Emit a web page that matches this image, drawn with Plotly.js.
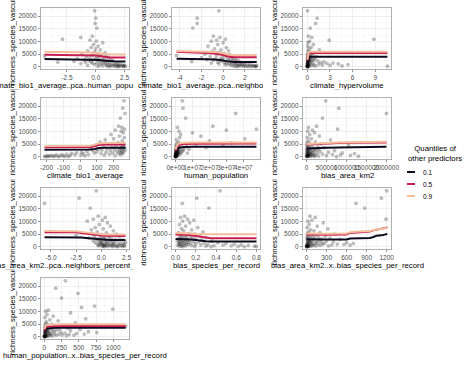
<!DOCTYPE html>
<html>
<head>
<meta charset="utf-8">
<script src="https://cdn.plot.ly/plotly-3.0.1.min.js"></script>
<style>
  html, body { margin: 0; padding: 0; background: #ffffff; }
  #plot { width: 474px; height: 368px; }
</style>
</head>
<body>
<div id="plot"></div>
<script>
// Response: vascular plant species richness per ecoregion (shared by every panel)
const richness = [22100, 19200, 17100, 15300, 12100, 11600, 10900, 10500, 10100, 9500,
  8800, 8200, 7600, 7100, 6700, 6300, 5900, 5600, 5300, 5000,
  4800, 4600, 4400, 4200, 4000, 3900, 3700, 3600, 3400, 3300,
  3200, 3100, 3000, 2900, 2800, 2700, 2600, 2500, 2400, 2300,
  2200, 2100, 2000, 1950, 1850, 1800, 1700, 1650, 1550, 1500,
  1450, 1350, 1300, 1200, 1150, 1100, 1000, 950, 900, 850,
  800, 750, 700, 650, 600, 550, 500, 450, 400, 380,
  340, 300, 260, 230, 200, 170, 150, 120, 100, 80];

// Predictor values (same observation order as richness)
const pcaHumanPopDensity = [-0.1, 0.0, -0.05, 0.1, -0.3, -1.3, -2.9, -0.5, 0.05, 0.6,
  -0.2, 0.2, -0.4, 0.0, 0.4, -0.7, -0.1, 0.8, 0.2, -1.2,
  0.5, -0.3, 0.9, -4.45, 0.1, -0.8, 1.1, 0.3, -0.5, 0.7,
  -1.6, 0.0, 1.3, -0.2, 0.6, -1.0, 0.9, 0.2, -0.6, 1.5,
  -1.9, 0.4, -0.4, 1.0, -3.3, 0.7, -0.9, 1.2, 0.1, 1.7,
  -0.3, 0.8, -1.3, 1.9, 0.5, 1.4, -0.1, 2.1, 1.1, 0.3,
  1.6, 2.3, 0.9, 1.8, -0.7, 2.5, 1.3, 2.0, 0.6, 2.4,
  1.5, 2.2, 1.0, 2.58, 1.7, 0.2, 2.0, 1.2, 2.4, 1.9];

const pcaNeighborsCount = [-0.4, -2.4, -2.4, -2.8, -0.9, -0.3, 0.2, -0.6, -1.1, 0.0,
  -0.5, -1.4, 0.3, -0.8, -0.2, 0.5, -1.0, -0.4, 0.1, -1.7,
  0.6, -0.6, -4.3, 0.2, -1.2, 0.8, -0.1, -2.0, 0.4, -0.7,
  1.0, -0.3, 0.7, -1.5, 0.0, 1.2, -0.9, 0.5, 1.4, -0.2,
  0.9, -2.9, 0.3, 1.1, -0.5, 1.6, 0.1, 0.8, 1.9, -1.1,
  1.3, 0.6, 2.2, 1.0, -0.4, 1.7, 0.4, 2.5, 1.2, 0.2,
  2.0, 1.5, 2.8, 0.7, 1.8, 3.1, 1.4, 2.4, 0.9, 2.7,
  1.6, 3.0, 2.1, 1.1, 2.9, 2.3, 1.9, 3.05, 2.6, 1.3];

const climateHypervolume = [0.02, 1.3, 1.1, 0.4, 0.15, 0.6, 8.8, 2.9, 0.3, 0.1,
  0.8, 0.05, 0.5, 0.2, 1.6, 0.08, 0.35, 0.9, 0.12, 0.45,
  0.03, 0.7, 0.25, 0.06, 1.2, 0.18, 0.55, 0.04, 0.3, 0.1,
  0.85, 0.02, 0.4, 0.15, 1.0, 0.07, 0.6, 0.22, 0.03, 1.4,
  0.12, 0.5, 0.05, 2.2, 0.28, 0.09, 1.8, 0.02, 0.75, 3.4,
  0.14, 2.6, 0.04, 0.38, 4.1, 0.01, 1.5, 0.2, 5.4, 0.06,
  0.9, 0.03, 2.0, 0.11, 3.0, 0.02, 0.65, 0.05, 4.6, 0.01,
  0.32, 1.1, 0.04, 10.6, 0.02, 0.08, 0.01, 0.16, 0.03, 0.0];

const climateBio1Average = [262, 255, 268, 240, 230, 250, 265, 210, 245, 258,
  185, 235, 264, 200, 150, 252, 120, 225, 260, 170,
  243, 95, 255, 215, 140, 266, 190, 248, 60, 232,
  160, 257, 110, 205, 269, 130, 238, 75, 180, 250,
  40, 220, 100, 262, 10, 155, 245, -20, 195, 85,
  230, -50, 125, 254, 20, -80, 175, 50, -110, 240,
  -30, -140, 145, 5, -170, -60, 210, -190, -100, 30,
  -150, -205, -120, -180, -90, -160, -212, -130, -195, -70];

const humanPopulation = [4.0e6, 4.3e6, 3.55e7, 6.0e6, 2.2e7, 1.1e6, 4.78e7, 3.0e7, 2.0e6, 1.0e7,
  3.0e6, 1.5e7, 2.4e6, 4.1e7, 5.0e5, 2.0e7, 1.7e6, 3.3e7, 8.0e5, 1.2e7,
  3.5e6, 2.5e5, 2.8e7, 1.4e6, 6.5e6, 4.0e5, 2.2e6, 1.8e7, 9.0e5, 5.0e6,
  3.0e5, 1.3e6, 8.0e6, 6.0e5, 2.7e6, 1.5e5, 1.1e6, 4.5e6, 2.0e5, 1.9e6,
  7.0e5, 3.8e6, 1.0e5, 1.5e6, 5.5e5, 2.5e6, 8.0e4, 1.0e6, 3.5e5, 7.0e6,
  1.6e6, 2.0e5, 4.5e5, 3.2e6, 6.0e4, 1.2e6, 3.0e5, 9.0e5, 5.0e4, 2.1e6,
  1.5e5, 5.0e5, 4.0e4, 1.0e6, 2.5e5, 3.0e4, 7.0e5, 1.2e5, 2.0e4, 4.0e5,
  1.0e4, 8.0e4, 6.0e5, 5.0e3, 2.0e5, 3.0e4, 1.0e5, 2.0e3, 5.0e4, 1.0e3];

const biasAreaKm2 = [4.8e5, 8.1e5, 2.0e6, 4.0e5, 2.5e5, 5.0e4, 7.8e5, 1.5e5, 3.0e4, 2.0e5,
  8.0e4, 3.2e5, 2.0e4, 1.2e5, 6.0e5, 4.0e4, 2.2e5, 1.0e4, 9.0e4, 3.6e5,
  1.6e5, 5.0e3, 1.05e6, 7.0e4, 2.8e5, 3.0e4, 1.3e5, 4.4e5, 1.5e4, 2.0e5,
  6.0e4, 1.0e5, 3.0e5, 8.0e3, 1.7e5, 5.0e4, 2.4e5, 2.0e4, 7.0e5, 1.1e5,
  4.0e4, 3.4e5, 1.2e4, 1.9e5, 9.0e4, 5.5e5, 2.5e4, 1.4e5, 9.0e5, 6.0e4,
  2.7e5, 3.0e3, 1.2e6, 1.0e5, 3.5e4, 4.0e5, 7.0e4, 1.8e5, 6.5e5, 2.0e4,
  1.3e5, 8.5e5, 4.5e4, 2.2e5, 1.0e4, 1.1e6, 8.0e4, 5.0e5, 3.0e4, 1.5e5,
  6.0e3, 3.0e5, 5.0e4, 1.3e6, 1.5e4, 9.5e4, 4.0e3, 2.0e5, 2.5e4, 7.5e5];

const pcaNeighborsSharedEdge = [-0.5, -2.2, -5.64, -1.1, -0.3, 0.4, -0.8, 0.1, -1.4, 0.6,
  -0.2, 0.9, -0.6, 0.2, -1.0, 1.2, -0.4, 0.5, -0.9, 1.5,
  0.0, -2.5, 0.8, -0.7, 0.3, 1.8, -0.1, 0.7, -1.2, 1.0,
  0.2, -0.5, 1.4, 0.4, -0.3, 2.1, 0.1, 0.9, -0.8, 1.6,
  0.5, -0.2, 1.1, 0.0, 2.4, 0.6, -0.6, 1.3, 0.3, 1.9,
  -0.1, 0.8, 2.2, 0.1, 1.2, -0.4, 0.5, 1.7, 0.0, 1.0,
  2.3, 0.3, 1.4, -0.2, 0.7, 2.0, 0.2, 1.1, 0.4, 1.8,
  -0.3, 0.9, 2.3, 0.6, 1.5, 0.1, 2.1, 1.2, 0.3, 1.6];

const biasSpeciesPerRecord = [0.44, 0.21, 0.067, 0.33, 0.09, 0.05, 0.12, 0.18, 0.07, 0.14,
  0.04, 0.1, 0.22, 0.06, 0.16, 0.08, 0.27, 0.03, 0.13, 0.19,
  0.05, 0.1, 0.24, 0.07, 0.15, 0.04, 0.11, 0.3, 0.06, 0.17,
  0.09, 0.03, 0.2, 0.12, 0.05, 0.26, 0.08, 0.14, 0.02, 0.36,
  0.1, 0.06, 0.18, 0.04, 0.23, 0.12, 0.07, 0.42, 0.15, 0.03,
  0.28, 0.09, 0.5, 0.05, 0.2, 0.11, 0.58, 0.04, 0.32, 0.13,
  0.65, 0.08, 0.25, 0.47, 0.02, 0.72, 0.16, 0.38, 0.06, 0.55,
  0.1, 0.78, 0.3, 0.04, 0.62, 0.19, 0.8, 0.35, 0.07, 0.68];

const biasAreaXSpeciesPerRecord = [1200, 1120, 740, 870, 50, 130, 1190, 80, 20, 250,
  40, 160, 10, 320, 60, 110, 30, 200, 15, 420,
  70, 140, 25, 280, 90, 5, 180, 45, 350, 120,
  8, 230, 55, 500, 100, 20, 190, 35, 300, 75,
  12, 150, 400, 40, 220, 65, 600, 18, 130, 270,
  50, 700, 10, 170, 85, 460, 28, 240, 560, 6,
  110, 380, 45, 650, 15, 200, 3, 90, 330, 25,
  140, 8, 60, 2, 35, 12, 4, 18, 1, 7];

const humanPopXSpeciesPerRecord = [306, 166, 488, 250, 729, 540, 993, 60, 20, 380,
  40, 130, 10, 600, 80, 200, 30, 450, 15, 110,
  50, 280, 25, 1180, 70, 5, 160, 35, 340, 90,
  8, 220, 45, 520, 120, 18, 180, 40, 380, 65,
  12, 140, 640, 30, 240, 55, 760, 14, 100, 300,
  45, 470, 9, 150, 75, 580, 22, 210, 360, 5,
  95, 260, 38, 430, 12, 170, 3, 70, 320, 20,
  115, 7, 50, 2, 30, 10, 4, 15, 1, 6];

// Partial dependence curves: grid of predictor values and predictions with the
// other predictors held at their 0.1 / 0.5 / 0.9 quantiles
const pd1X = [-4.45, -3.0, -2.0, -1.0, -0.4, 0.0, 0.3, 0.6, 0.9, 1.2, 1.6, 2.0, 2.58];
const pd1Q1 = [3100, 3050, 3000, 3000, 2950, 2850, 2700, 2500, 2350, 2250, 2200, 2150, 2150];
const pd1Q5 = [4750, 4750, 4700, 4700, 4650, 4500, 4300, 4000, 3800, 3700, 3650, 3650, 3650];
const pd1Q9 = [5950, 5900, 5850, 5750, 5650, 5450, 5250, 5050, 4950, 4900, 4850, 4850, 4850];

const pd2X = [-4.3, -3.0, -2.2, -1.5, -0.8, -0.3, 0.0, 0.3, 0.6, 1.0, 1.5, 2.2, 3.1];
const pd2Q1 = [3200, 3200, 3100, 3000, 2900, 2750, 2500, 2250, 2050, 1950, 1900, 1900, 1900];
const pd2Q5 = [5900, 5850, 5600, 5500, 5300, 5000, 4700, 4300, 3950, 3800, 3750, 3750, 3750];
const pd2Q9 = [6250, 6200, 6050, 5950, 5850, 5650, 5350, 5000, 4750, 4650, 4650, 4650, 4650];

const pd3X = [0, 0.05, 0.1, 0.2, 0.4, 1, 3, 6, 10.6];
const pd3Q1 = [800, 1800, 3200, 3800, 3950, 4000, 4000, 4000, 4000];
const pd3Q5 = [2500, 3800, 4900, 5400, 5500, 5500, 5500, 5500, 5500];
const pd3Q9 = [2800, 4200, 5300, 5800, 5900, 5900, 5900, 5900, 5900];

const pd4X = [-212, -100, 0, 60, 90, 110, 150, 200, 240, 271];
const pd4Q1 = [2750, 2750, 2800, 2850, 3100, 3500, 3600, 3650, 3650, 3600];
const pd4Q5 = [3800, 3800, 3850, 3900, 4200, 4700, 4850, 4900, 4950, 4900];
const pd4Q9 = [4300, 4300, 4350, 4400, 4800, 5300, 5450, 5550, 5600, 5600];

const pd5X = [0, 5e5, 1e6, 2e6, 3e6, 5e6, 1e7, 2e7, 3e7, 4.78e7];
const pd5Q1 = [1200, 2200, 3000, 3600, 3800, 3900, 3950, 4000, 4000, 4000];
const pd5Q5 = [2400, 3400, 4200, 4800, 5000, 5100, 5200, 5300, 5300, 5300];
const pd5Q9 = [2900, 3900, 4700, 5300, 5500, 5600, 5650, 5700, 5700, 5700];

const pd6X = [0, 1e5, 3e5, 5e5, 8e5, 1.2e6, 1.6e6, 2.0e6];
const pd6Q1 = [3300, 3400, 3500, 3600, 3700, 3800, 3900, 4000];
const pd6Q5 = [4900, 5000, 5100, 5300, 5500, 5600, 5650, 5700];
const pd6Q9 = [5100, 5200, 5300, 5500, 5700, 5800, 5850, 5900];

const pd7X = [-5.64, -4.0, -2.5, -2.0, -1.5, -1.0, -0.5, 0.0, 0.5, 1.0, 1.5, 2.4];
const pd7Q1 = [3800, 3800, 3750, 3650, 3500, 3300, 3000, 2800, 2750, 2700, 2700, 2700];
const pd7Q5 = [5800, 5800, 5750, 5500, 5200, 5000, 4700, 4450, 4350, 4300, 4300, 4300];
const pd7Q9 = [6200, 6200, 6150, 5900, 5600, 5400, 5100, 4950, 4900, 4900, 4900, 4900];

const pd8X = [0, 0.05, 0.1, 0.15, 0.2, 0.25, 0.3, 0.35, 0.4, 0.5, 0.8];
const pd8Q1 = [3100, 3100, 3000, 2900, 2700, 2400, 2200, 2100, 2100, 2100, 2100];
const pd8Q5 = [4900, 4900, 4800, 4600, 4300, 3900, 3600, 3400, 3400, 3400, 3400];
const pd8Q9 = [5500, 5500, 5400, 5300, 5100, 5000, 4950, 4950, 4950, 4950, 4950];

const pd9X = [0, 100, 300, 600, 650, 800, 950, 1000, 1050, 1150, 1210];
const pd9Q1 = [3000, 2900, 2900, 2900, 3300, 3400, 3500, 3900, 4400, 4700, 5100];
const pd9Q5 = [4900, 4800, 4800, 4900, 5500, 5800, 6000, 6500, 6800, 7200, 7600];
const pd9Q9 = [5300, 5200, 5200, 5300, 5800, 6000, 6200, 6600, 6900, 7200, 7400];

const pd10X = [0, 10, 20, 40, 80, 150, 300, 600, 900, 1180];
const pd10Q1 = [1500, 2500, 3000, 3300, 3450, 3550, 3600, 3600, 3600, 3600];
const pd10Q5 = [2500, 3400, 3900, 4100, 4250, 4300, 4300, 4300, 4300, 4300];
const pd10Q9 = [3000, 3900, 4400, 4650, 4800, 4900, 4950, 4950, 4950, 4950];

// Legend categories
const quantileLabels = ['0.1', '0.5', '0.9'];
const quantileColors = ['#0b0a1f', '#c81d50', '#f4bd9c'];

// Y axis (shared)
const yTicks = [0, 5000, 10000, 15000, 20000];
const yTickText = ['0', '5000', '10000', '15000', '20000'];
const responseName = 'richness_species_vascular';

const panels = [
  { name: 'climate_bio1_average..pca..human_population_density', x: pcaHumanPopDensity,
    ticks: [-2.5, 0, 2.5], tickText: ['-2.5', '0.0', '2.5'], range: [-4.8, 2.93],
    pdX: pd1X, pd: [pd1Q1, pd1Q5, pd1Q9] },
  { name: 'climate_bio1_average..pca..neighbors_count', x: pcaNeighborsCount,
    ticks: [-4, -2, 0, 2], tickText: ['-4', '-2', '0', '2'], range: [-4.77, 3.45],
    pdX: pd2X, pd: [pd2Q1, pd2Q5, pd2Q9] },
  { name: 'climate_hypervolume', x: climateHypervolume,
    ticks: [0, 3, 6, 9], tickText: ['0', '3', '6', '9'], range: [-0.63, 11.14],
    pdX: pd3X, pd: [pd3Q1, pd3Q5, pd3Q9] },
  { name: 'climate_bio1_average', x: climateBio1Average,
    ticks: [-200, -100, 0, 100, 200], tickText: ['-200', '-100', '0', '100', '200'], range: [-236, 295],
    pdX: pd4X, pd: [pd4Q1, pd4Q5, pd4Q9] },
  { name: 'human_population', x: humanPopulation,
    ticks: [0, 1e7, 2e7, 3e7, 4e7], tickText: ['0e+00', '1e+07', '2e+07', '3e+07', '4e+07'], range: [-2.4e6, 5.02e7],
    pdX: pd5X, pd: [pd5Q1, pd5Q5, pd5Q9] },
  { name: 'bias_area_km2', x: biasAreaKm2,
    ticks: [0, 5e5, 1e6, 1.5e6, 2e6], tickText: ['0', '500000', '1000000', '1500000', '2000000'], range: [-1.01e5, 2.127e6],
    pdX: pd6X, pd: [pd6Q1, pd6Q5, pd6Q9] },
  { name: 'bias_area_km2..pca..neighbors_percent_shared_edge', x: pcaNeighborsSharedEdge,
    ticks: [-5, -2.5, 0, 2.5], tickText: ['-5.0', '-2.5', '0.0', '2.5'], range: [-6.04, 2.8],
    pdX: pd7X, pd: [pd7Q1, pd7Q5, pd7Q9] },
  { name: 'bias_species_per_record', x: biasSpeciesPerRecord,
    ticks: [0, 0.2, 0.4, 0.6, 0.8], tickText: ['0.0', '0.2', '0.4', '0.6', '0.8'], range: [-0.04, 0.84],
    pdX: pd8X, pd: [pd8Q1, pd8Q5, pd8Q9] },
  { name: 'bias_area_km2..x..bias_species_per_record', x: biasAreaXSpeciesPerRecord,
    ticks: [0, 300, 600, 900, 1200], tickText: ['0', '300', '600', '900', '1200'], range: [-61, 1272],
    pdX: pd9X, pd: [pd9Q1, pd9Q5, pd9Q9] },
  { name: 'human_population..x..bias_species_per_record', x: humanPopXSpeciesPerRecord,
    ticks: [0, 250, 500, 750, 1000], tickText: ['0', '250', '500', '750', '1000'], range: [-55, 1235],
    pdX: pd10X, pd: [pd10Q1, pd10Q5, pd10Q9] }
];

// ---- page geometry (pixels) ----
const W = 474, H = 368;
const FONT = '"Liberation Sans", Arial, Helvetica, sans-serif';
const colLeft = [40.5, 171.5, 302.5];
const panelW = 89;
const rowTop = [8, 98, 188, 278];
const panelH = 61.5;
const yTitleX = [12.5, 144, 274.5];
const cellRight = [133, 263, W];
const rowEdges = [0, 89.5, 179.5, 269.5, H];
const yRange = [-1050, 23200];

// minor grid halfway between major breaks, as in theme_bw
function minorBreaks(ticks, range) {
  const step = ticks[1] - ticks[0];
  const out = [];
  for (let k = -1; k < ticks.length; k++) {
    const v = ticks[0] + step * (k + 0.5);
    if (v >= range[0] && v <= range[1]) out.push(v);
  }
  return out;
}

const px = v => v / W;
const py = v => 1 - v / H;

const traces = [];
const annotations = [];
const clips = [];   // per-annotation clip box, in page pixels
const layout = {
  width: W, height: H,
  margin: { l: 0, r: 0, t: 0, b: 0 },
  paper_bgcolor: '#ffffff', plot_bgcolor: '#ffffff',
  showlegend: false,
  font: { family: FONT, color: '#000000' },
  shapes: []
};

panels.forEach((p, i) => {
  const r = Math.floor(i / 3), c = i % 3;
  const s = i === 0 ? '' : String(i + 1);
  const left = colLeft[c], top = rowTop[r];
  const common = {
    ticks: 'outside', ticklen: 2, tickwidth: 0.6, tickcolor: '#4d4d4d',
    tickfont: { family: FONT, size: 6.5, color: '#4d4d4d' },
    showgrid: true, gridcolor: '#e4e4e4', gridwidth: 0.6,
    showline: true, mirror: true, linecolor: '#8f8f8f', linewidth: 0.7,
    zeroline: false, fixedrange: true, tickmode: 'array', tickangle: 0
  };
  layout['xaxis' + s] = Object.assign({}, common, {
    domain: [px(left), px(left + panelW)], anchor: 'y' + s,
    range: p.range, tickvals: p.ticks, ticktext: p.tickText,
    minor: { tickmode: 'array', tickvals: minorBreaks(p.ticks, p.range), showgrid: true,
             gridcolor: '#f1f1f1', gridwidth: 0.4, ticks: '' }
  });
  layout['yaxis' + s] = Object.assign({}, common, {
    domain: [py(top + panelH), py(top)], anchor: 'x' + s,
    range: yRange, tickvals: yTicks, ticktext: yTickText,
    minor: { tickmode: 'array', tickvals: minorBreaks(yTicks, yRange), showgrid: true,
             gridcolor: '#f1f1f1', gridwidth: 0.4, ticks: '' }
  });

  traces.push({
    type: 'scatter', mode: 'markers', x: p.x, y: richness,
    xaxis: 'x' + s, yaxis: 'y' + s, hoverinfo: 'skip',
    marker: { size: 3.8, color: 'rgba(0,0,0,0.26)', line: { width: 0 } }
  });
  p.pd.forEach((q, k) => {
    traces.push({
      type: 'scatter', mode: 'lines', x: p.pdX, y: q,
      xaxis: 'x' + s, yaxis: 'y' + s, hoverinfo: 'skip',
      name: quantileLabels[k],
      line: { color: quantileColors[k], width: 2, shape: 'linear' }
    });
  });

  const cellL = c === 0 ? -60 : cellRight[c - 1];
  const cellR = (r === 3) ? W : cellRight[c];
  const cell = { x0: cellL, x1: cellR, y0: rowEdges[r], y1: rowEdges[r + 1] };

  // x axis title, centred under the panel
  annotations.push({
    xref: 'paper', yref: 'paper', x: px(left + panelW / 2), y: py(top + panelH + 16),
    xanchor: 'center', yanchor: 'middle', showarrow: false, text: p.name,
    font: { family: FONT, size: 7.8, color: '#000000' }
  });
  clips.push(cell);
  // y axis title, rotated
  annotations.push({
    xref: 'paper', yref: 'paper', x: px(yTitleX[c]), y: py(top + panelH / 2),
    xanchor: 'center', yanchor: 'middle', showarrow: false, text: responseName, textangle: -90,
    font: { family: FONT, size: 7.8, color: '#000000' }
  });
  clips.push(cell);
});

// legend: title, key lines and labels
annotations.push({
  xref: 'paper', yref: 'paper', x: px(434.7), y: py(153), xanchor: 'center', yanchor: 'middle',
  showarrow: false, align: 'center', text: 'Quantiles of<br>other predictors',
  font: { family: FONT, size: 7.8, color: '#000000' }
});
clips.push(null);
quantileLabels.forEach((lab, k) => {
  const yy = 172 + 12 * k;
  layout.shapes.push({
    type: 'line', xref: 'paper', yref: 'paper',
    x0: px(407), x1: px(415), y0: py(yy), y1: py(yy),
    line: { color: quantileColors[k], width: 2 }
  });
  annotations.push({
    xref: 'paper', yref: 'paper', x: px(420.5), y: py(yy), xanchor: 'left', yanchor: 'middle',
    showarrow: false, text: lab, font: { family: FONT, size: 6.5, color: '#000000' }
  });
  clips.push(null);
});
layout.annotations = annotations;

const gd = document.getElementById('plot');
Plotly.newPlot(gd, traces, layout, { staticPlot: true, displayModeBar: false }).then(() => {
  // each sub-plot only shows text inside its own cell of the grid
  const info = gd.querySelector('.infolayer');
  if (!info) return;
  const svg = info.ownerSVGElement;
  const NS = 'http://www.w3.org/2000/svg';
  let defs = svg.querySelector('defs');
  if (!defs) { defs = document.createElementNS(NS, 'defs'); svg.insertBefore(defs, svg.firstChild); }
  info.querySelectorAll('g.annotation').forEach(g => {
    const idx = +g.getAttribute('data-index');
    const b = clips[idx];
    if (!b) return;
    const cp = document.createElementNS(NS, 'clipPath');
    cp.setAttribute('id', 'cellclip' + idx);
    cp.setAttribute('clipPathUnits', 'userSpaceOnUse');
    const rect = document.createElementNS(NS, 'rect');
    rect.setAttribute('x', b.x0); rect.setAttribute('y', b.y0);
    rect.setAttribute('width', b.x1 - b.x0); rect.setAttribute('height', b.y1 - b.y0);
    cp.appendChild(rect);
    defs.appendChild(cp);
    g.setAttribute('clip-path', 'url(#cellclip' + idx + ')');
  });
});
</script>
</body>
</html>
